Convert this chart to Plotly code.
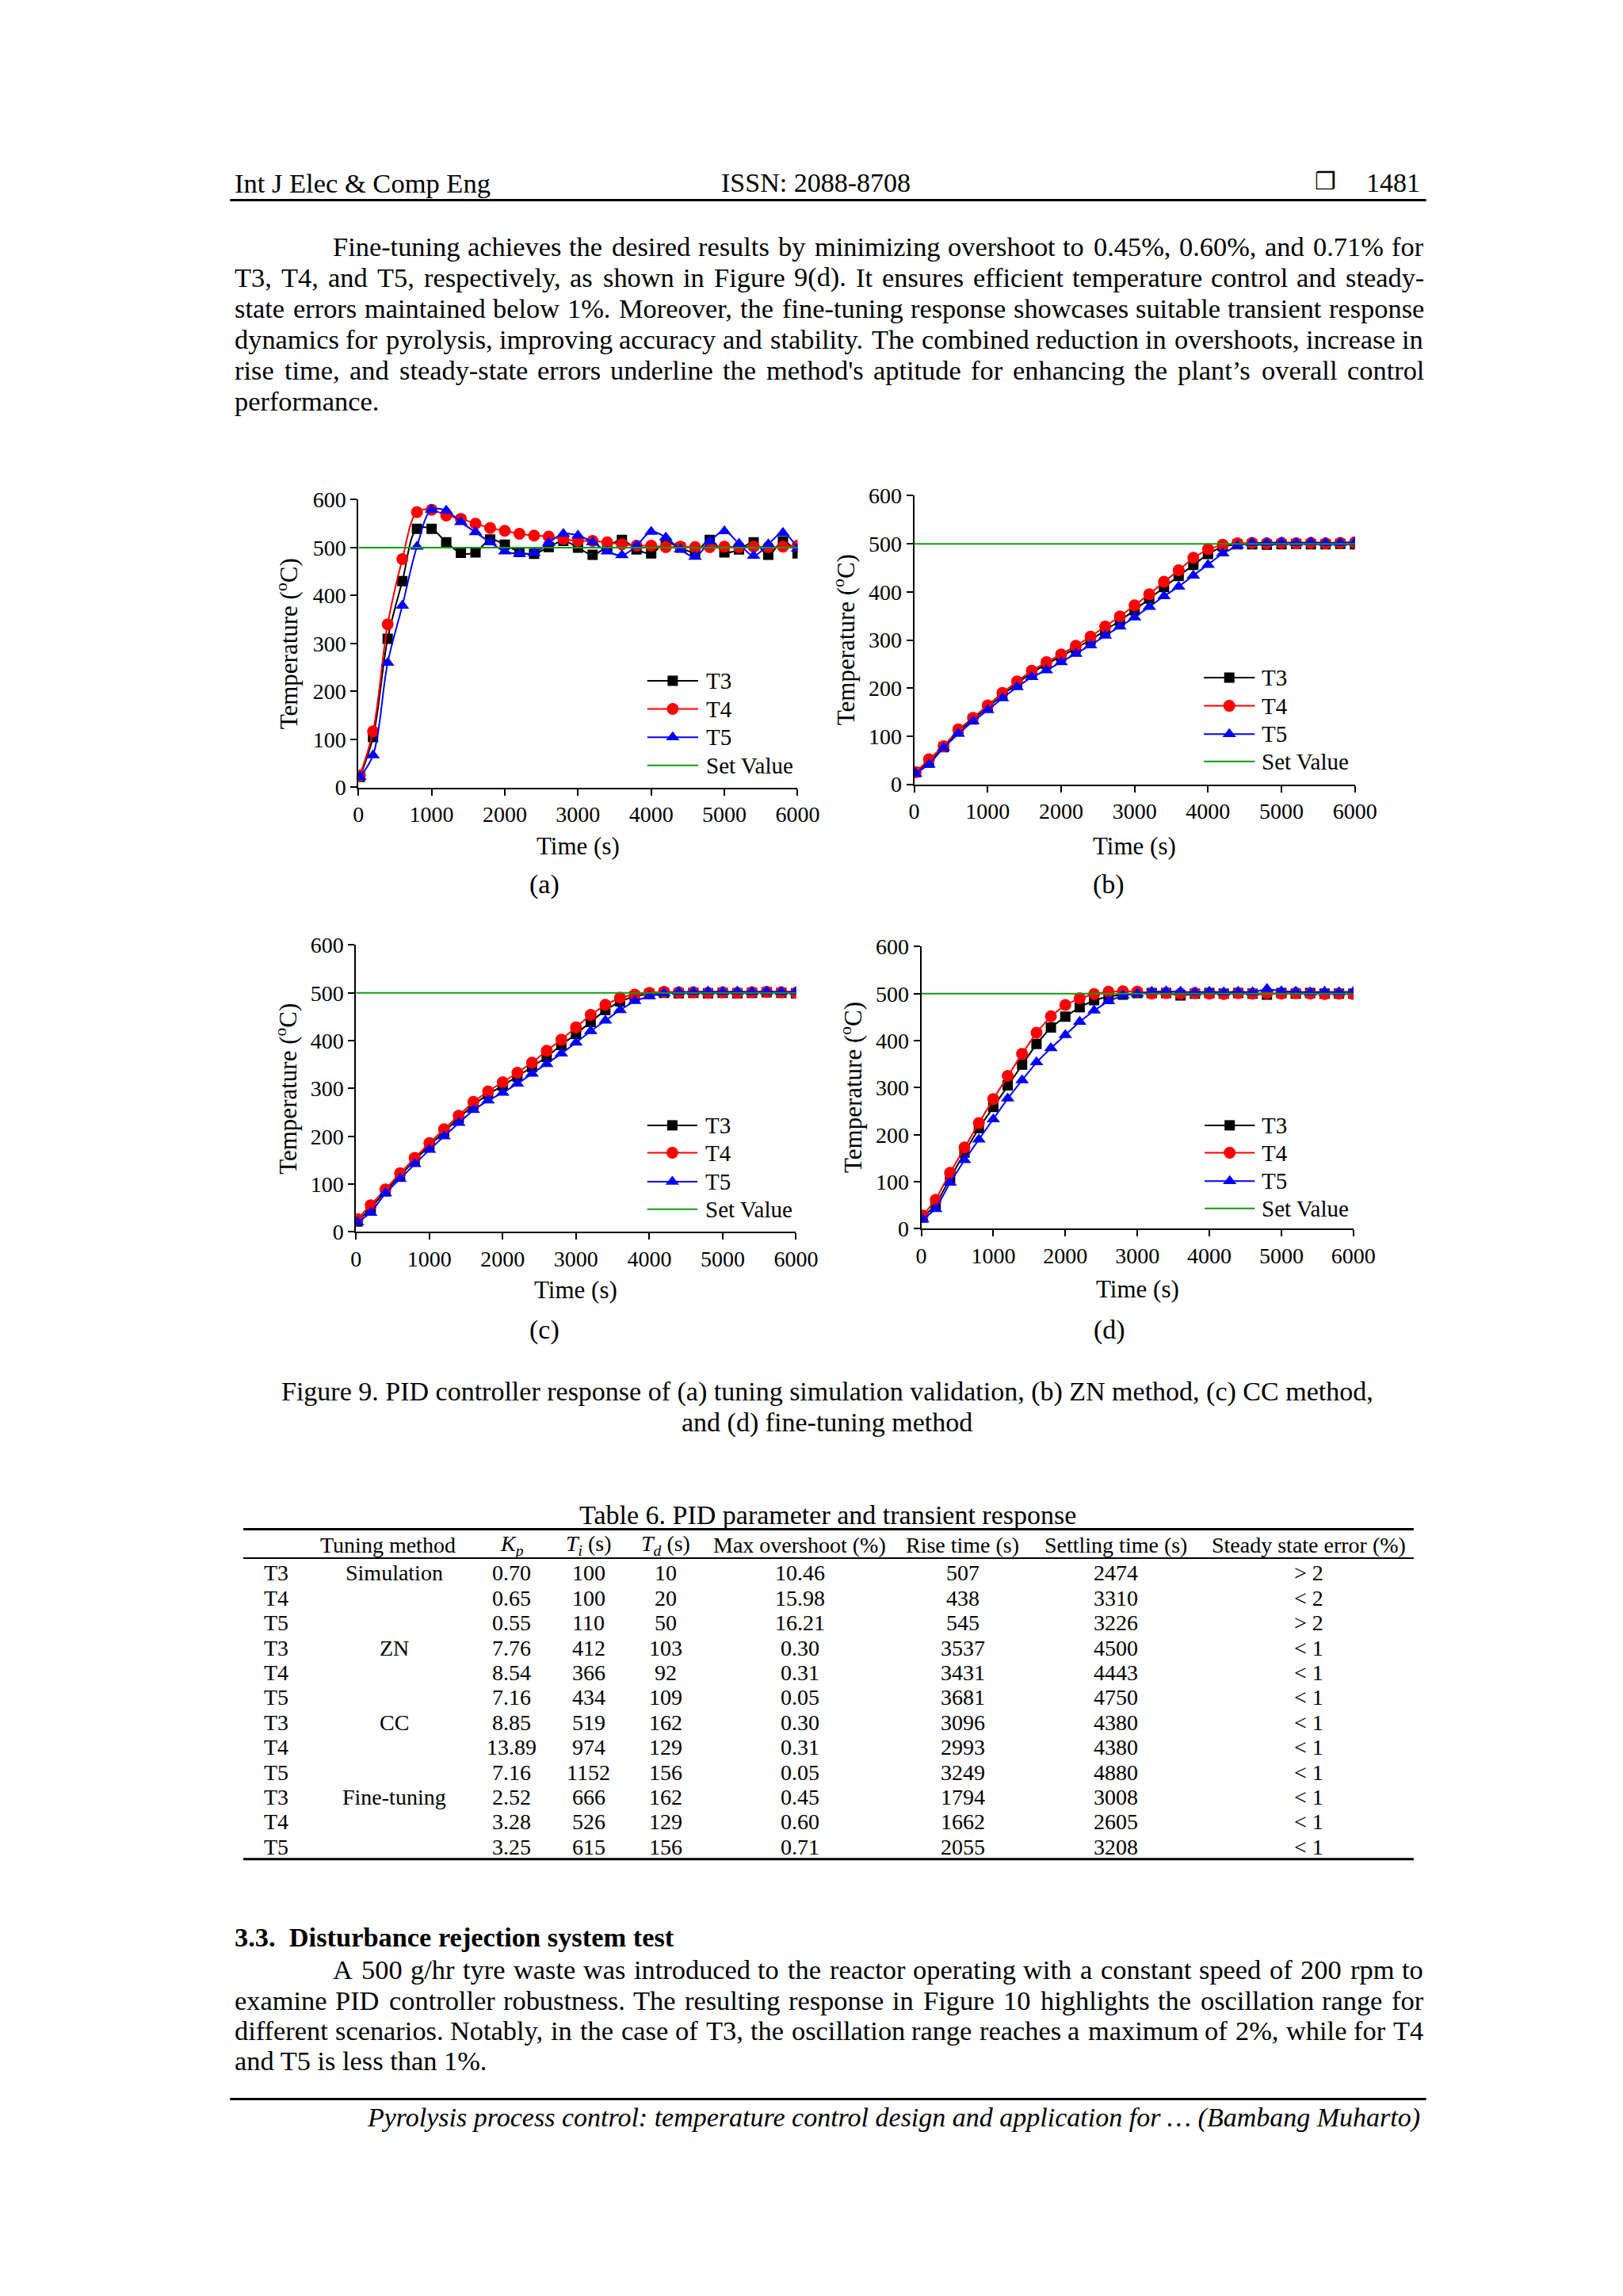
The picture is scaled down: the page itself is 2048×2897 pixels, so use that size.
import plotly.graph_objects as go

W, H = 2048, 2897
FONT = "Liberation Serif"
OFF = 8  # compensate default page body margin

# ---------------- data ----------------
TIME = [20, 200, 400, 600, 800, 1000, 1200, 1400, 1600, 1800, 2000, 2200, 2400, 2600, 2800,
        3000, 3200, 3400, 3600, 3800, 4000, 4200, 4400, 4600, 4800, 5000, 5200, 5400, 5600, 5800, 6000]
SET_VALUE = 500

A_T3 = [22, 105, 310, 430, 539, 539, 511, 489, 490, 517, 506, 491, 487, 501, 514, 500, 485, 502, 516, 496,
        488, 510, 500, 490, 516, 490, 496, 511, 485, 513, 488]
A_T4 = [25, 117, 340, 476, 574, 579, 567, 560, 550, 541, 535, 529, 525, 523, 518, 514, 514, 511, 507, 504,
        504, 501, 502, 501, 501, 502, 501, 502, 501, 502, 504]
A_T5 = [22, 67, 260, 379, 502, 579, 577, 553, 532, 511, 492, 487, 489, 510, 529, 525, 511, 492, 484, 504,
        533, 521, 496, 481, 513, 534, 508, 483, 507, 531, 498]

B_T3 = [25, 45, 77, 110, 135, 160, 186, 210, 232, 250, 266, 283, 300, 320, 340, 362, 386, 410, 433, 456,
        479, 495, 499, 499, 498, 499, 500, 499, 499, 500, 499]
B_T4 = [25, 52, 79, 114, 138, 164, 190, 214, 236, 254, 270, 288, 307, 328, 349, 372, 395, 421, 445, 471,
        489, 498, 501, 502, 501, 502, 501, 502, 501, 502, 503]
B_T5 = [22, 41, 76, 105, 131, 154, 179, 202, 223, 237, 254, 271, 289, 309, 328, 347, 369, 391, 411, 434,
        456, 480, 496, 502, 502, 503, 502, 503, 502, 502, 503]

C_T3 = [22, 50, 85, 118, 150, 181, 210, 238, 266, 288, 306, 325, 345, 366, 391, 414, 439, 464, 482, 493,
        498, 500, 499, 500, 499, 500, 499, 500, 501, 500, 499]
C_T4 = [27, 56, 89, 123, 155, 186, 215, 243, 272, 294, 313, 333, 354, 379, 402, 428, 454, 475, 490, 496,
        500, 502, 501, 501, 500, 501, 500, 501, 502, 501, 500]
C_T5 = [20, 40, 81, 111, 142, 172, 200, 228, 255, 275, 291, 310, 331, 351, 373, 396, 420, 442, 464, 483,
        493, 499, 502, 502, 503, 502, 503, 502, 503, 502, 503]

D_T3 = [24, 51, 107, 162, 214, 259, 305, 349, 393, 428, 451, 471, 486, 494, 498, 501, 501, 501, 496, 500,
        501, 500, 501, 500, 498, 501, 500, 501, 500, 500, 500]
D_T4 = [28, 62, 119, 173, 225, 276, 325, 372, 417, 452, 476, 490, 499, 504, 505, 504, 500, 501, 500, 501,
        500, 499, 501, 500, 501, 500, 501, 500, 499, 500, 499]
D_T5 = [20, 42, 98, 146, 190, 233, 277, 316, 354, 384, 412, 440, 464, 484, 496, 500, 504, 505, 504, 503,
        504, 503, 504, 503, 510, 505, 504, 503, 504, 503, 504]

SERIES_NAMES = ["T3", "T4", "T5"]
LEGEND_LABELS = ["T3", "T4", "T5", "Set Value"]
X_TICKS = [0, 1000, 2000, 3000, 4000, 5000, 6000]
Y_TICKS = [0, 100, 200, 300, 400, 500, 600]
PANEL_LABELS = ["(a)", "(b)", "(c)", "(d)"]

TABLE_SERIES = ["T3", "T4", "T5", "T3", "T4", "T5", "T3", "T4", "T5", "T3", "T4", "T5"]
TABLE_METHOD = ["Simulation", "", "", "ZN", "", "", "CC", "", "", "Fine-tuning", "", ""]
KP = ["0.70", "0.65", "0.55", "7.76", "8.54", "7.16", "8.85", "13.89", "7.16", "2.52", "3.28", "3.25"]
TI = ["100", "100", "110", "412", "366", "434", "519", "974", "1152", "666", "526", "615"]
TD = ["10", "20", "50", "103", "92", "109", "162", "129", "156", "162", "129", "156"]
OVERSHOOT = ["10.46", "15.98", "16.21", "0.30", "0.31", "0.05", "0.30", "0.31", "0.05", "0.45", "0.60", "0.71"]
RISE = ["507", "438", "545", "3537", "3431", "3681", "3096", "2993", "3249", "1794", "1662", "2055"]
SETTLING = ["2474", "3310", "3226", "4500", "4443", "4750", "4380", "4380", "4880", "3008", "2605", "3208"]
SSE = ["&gt; 2", "&lt; 2", "&gt; 2", "&lt; 1", "&lt; 1", "&lt; 1", "&lt; 1", "&lt; 1", "&lt; 1",
       "&lt; 1", "&lt; 1", "&lt; 1"]
TABLE_HEADERS = ["", "Tuning method", "<i>K<sub>p</sub></i>", "<i>T<sub>i</sub></i> (s)",
                 "<i>T<sub>d</sub></i> (s)", "Max overshoot (%)", "Rise time (s)",
                 "Settling time (s)", "Steady state error (%)"]

PARA1 = [
    "Fine-tuning achieves the desired results by minimizing overshoot to 0.45%, 0.60%, and 0.71% for",
    "T3, T4, and T5, respectively, as shown in Figure 9(d). It ensures efficient temperature control and steady-",
    "state errors maintained below 1%. Moreover, the fine-tuning response showcases suitable transient response",
    "dynamics for pyrolysis, improving accuracy and stability. The combined reduction in overshoots, increase in",
    "rise time, and steady-state errors underline the method's aptitude for enhancing the plant\u2019s overall control",
    "performance.",
]
PARA2 = [
    "A 500 g/hr tyre waste was introduced to the reactor operating with a constant speed of 200 rpm to",
    "examine PID controller robustness. The resulting response in Figure 10 highlights the oscillation range for",
    "different scenarios. Notably, in the case of T3, the oscillation range reaches a maximum of 2%, while for T4",
    "and T5 is less than 1%.",
]
CAPTION = [
    "Figure 9. PID controller response of (a) tuning simulation validation, (b) ZN method, (c) CC method,",
    "and (d) fine-tuning method",
]

# ---------------- layout helpers ----------------
XS = 1.005  # slight horizontal stretch about x=280

def gx(x):
    return 280 + (x - 280) * XS

def px(x):
    return (gx(x) - OFF) / W

def py(y):
    return 1 - (y - OFF) / H

# Times New Roman advance widths (per 1000 em) for justified text layout
TW = {' ': 250, '!': 333, '"': 408, '%': 833, '&': 778, "'": 180, '(': 333, ')': 333, ',': 250, '-': 333,
      '.': 250, '/': 278, ':': 278, ';': 278, '?': 444, '\u2019': 333}
for ch in "0123456789":
    TW[ch] = 500
TW.update(dict(zip("ABCDEFGHIJKLMNOPQRSTUVWXYZ",
                   [722, 667, 667, 722, 611, 556, 722, 722, 333, 389, 722, 611, 889, 722, 722, 556, 722,
                    667, 556, 611, 722, 722, 944, 722, 722, 611])))
TW.update(dict(zip("abcdefghijklmnopqrstuvwxyz",
                   [444, 500, 444, 500, 444, 333, 500, 500, 278, 278, 500, 278, 778, 500, 500, 500, 500,
                    333, 389, 278, 500, 500, 722, 500, 500, 444])))

def wwidth(s, size):
    return sum(TW.get(c, 500) for c in s) * size / 1000.0

COLORS = ["#000000", "#FF0000", "#0000FF"]
SYMBOLS = ["square", "circle", "triangle-up"]
SIZES = [13, 15, 15]
GREEN = "#139A13"

PANELS = [
    dict(x0=452, x1=1013, yt=622, yb=989, ytx=362, xty=1064, lab=(690, 1113),
         leg=dict(l0=821, l1=886, tx=894, rows=[853, 889, 925, 961]), shape="spline"),
    dict(x0=1162, x1=1725, yt=617, yb=985, ytx=1073, xty=1064, lab=(1410, 1113),
         leg=dict(l0=1532, l1=1597, tx=1604, rows=[849, 885, 921, 956]), shape="linear"),
    dict(x0=449, x1=1011, yt=1190, yb=1556, ytx=360, xty=1630, lab=(690, 1681),
         leg=dict(l0=821, l1=885, tx=893, rows=[1420, 1455, 1492, 1527]), shape="linear"),
    dict(x0=1171, x1=1723, yt=1192, yb=1552, ytx=1082, xty=1629, lab=(1411, 1681),
         leg=dict(l0=1533, l1=1597, tx=1604, rows=[1420, 1455, 1491, 1526]), shape="linear"),
]
PANEL_DATA = [(A_T3, A_T4, A_T5), (B_T3, B_T4, B_T5), (C_T3, C_T4, C_T5), (D_T3, D_T4, D_T5)]

fig = go.Figure()
annotations = []
shapes = []

def text(x, y, s, size=34, xanchor="left", angle=0, yanchor="middle"):
    annotations.append(dict(x=px(x), y=py(y), xref="paper", yref="paper", text=s, showarrow=False,
                            xanchor=xanchor, yanchor=yanchor, textangle=angle,
                            font=dict(family=FONT, size=size, color="black")))

def justified(x0, x1, y, line, size):
    # positions computed in output pixels so that the right edge lands on x1
    words = line.split(" ")
    widths = [wwidth(w, size) for w in words]
    a, b = gx(x0), gx(x1)
    gap = (b - a - sum(widths)) / (len(words) - 1)
    if gap < 0.5 * TW[' '] * size / 1000.0:
        text(x0, y, line, size=size)
        return
    x = a
    for w, wd in zip(words, widths):
        annotations.append(dict(x=(x - OFF) / W, y=py(y), xref="paper", yref="paper", text=w,
                                showarrow=False, xanchor="left", yanchor="middle",
                                font=dict(family=FONT, size=size, color="black")))
        x += wd + gap

def hline(x0, x1, y, width=2):
    shapes.append(dict(type="line", xref="paper", yref="paper", x0=px(x0), x1=px(x1), y0=py(y), y1=py(y),
                       line=dict(color="black", width=width)))

for i, (p, series) in enumerate(zip(PANELS, PANEL_DATA)):
    n = i + 1
    xa = "x" if n == 1 else f"x{n}"
    ya = "y" if n == 1 else f"y{n}"
    for k, vals in enumerate(series):
        fig.add_trace(go.Scatter(x=TIME, y=vals, xaxis=xa, yaxis=ya, mode="lines+markers",
                                 name=SERIES_NAMES[k], showlegend=False,
                                 line=dict(color=COLORS[k], width=2, shape=p["shape"]),
                                 marker=dict(symbol=SYMBOLS[k], size=SIZES[k], color=COLORS[k])))
    fig.add_trace(go.Scatter(x=[0, 6000], y=[SET_VALUE, SET_VALUE], xaxis=xa, yaxis=ya, mode="lines",
                             name="Set Value", showlegend=False, line=dict(color=GREEN, width=2)))
    axcommon = dict(showline=True, linecolor="black", linewidth=2, ticks="outside", ticklen=8,
                    tickwidth=2, tickcolor="black", showgrid=False, zeroline=False,
                    tickfont=dict(family=FONT, size=28, color="black"), fixedrange=True)
    fig.update_layout({
        ("xaxis" if n == 1 else f"xaxis{n}"): dict(domain=[px(p["x0"]), px(p["x1"])], range=[0, 6000],
                                                   tickvals=X_TICKS, anchor=ya, **axcommon),
        ("yaxis" if n == 1 else f"yaxis{n}"): dict(domain=[py(p["yb"]), py(p["yt"])], range=[0, 600],
                                                   tickvals=Y_TICKS, anchor=xa, **axcommon),
    })
    text(p["ytx"], (p["yt"] + p["yb"]) / 2, "Temperature (<sup>o</sup>C)", size=31, xanchor="center", angle=-90)
    text((p["x0"] + p["x1"]) / 2, p["xty"], "Time (s)", size=31, xanchor="center")
    text(p["lab"][0], p["lab"][1], PANEL_LABELS[i], size=34, xanchor="center")
    lg = p["leg"]
    for r, lab in enumerate(LEGEND_LABELS):
        yy = lg["rows"][r]
        col = COLORS[r] if r < 3 else GREEN
        shapes.append(dict(type="line", xref="paper", yref="paper", x0=px(lg["l0"]), x1=px(lg["l1"]),
                           y0=py(yy), y1=py(yy), line=dict(color=col, width=2)))
        text(lg["tx"], yy, lab, size=29)
        if r < 3:
            fig.add_trace(go.Scatter(x=[gx((lg["l0"] + lg["l1"]) / 2) - OFF], y=[yy - OFF],
                                     xaxis="x5", yaxis="y5", mode="markers", showlegend=False,
                                     hoverinfo="skip",
                                     marker=dict(symbol=SYMBOLS[r], size=SIZES[r], color=COLORS[r])))

fig.update_layout(
    xaxis5=dict(domain=[0, 1], range=[0, W], visible=False, anchor="y5", fixedrange=True),
    yaxis5=dict(domain=[0, 1], range=[H, 0], visible=False, anchor="x5", fixedrange=True),
)

# ---------------- page text ----------------
LEFT, RIGHT, INDENT = 292, 1810, 417
BODY = 34.4
text(LEFT, 218, "Int J Elec &amp; Comp Eng", size=34.5)
text(1036, 218, "ISSN: 2088-8708", size=34, xanchor="center")
text(1687, 216, "\u2752", size=30, xanchor="center")
text(RIGHT, 218, "1481", size=34, xanchor="right")
hline(288, 1816, 240, width=3)

for j, line in enumerate(PARA1):
    x0 = INDENT if j == 0 else LEFT
    y = 299 + j * 39.5
    if j < len(PARA1) - 1:
        justified(x0, RIGHT, y, line, BODY)
    else:
        text(x0, y, line, size=BODY)

for j, line in enumerate(CAPTION):
    text(1051, 1760 + j * 39, line, size=34, xanchor="center")

# table
text(1052, 1917, "Table 6. PID parameter and transient response", size=34, xanchor="center")
hline(305, 1800, 1935, width=3)
hline(305, 1800, 1972, width=2)
hline(305, 1800, 2356, width=3)
COLX = [347, 490, 648, 746, 845, 1016, 1224, 1420, 1666]
for c, h in enumerate(TABLE_HEADERS):
    if h:
        text(COLX[c], 1955, h, size=28, xanchor="center")
COLUMNS = [TABLE_SERIES, TABLE_METHOD, KP, TI, TD, OVERSHOOT, RISE, SETTLING, SSE]
COLX_BODY = [347, 498, 648, 746, 845, 1016, 1224, 1420, 1666]
for r in range(len(TABLE_SERIES)):
    yy = 1991 + r * 31.75
    for c, col in enumerate(COLUMNS):
        if col[r]:
            text(COLX_BODY[c], yy, col[r], size=28, xanchor="center")

text(LEFT, 2455, "<b>3.3.\u00a0\u00a0Disturbance rejection system test</b>", size=BODY)
for j, line in enumerate(PARA2):
    x0 = INDENT if j == 0 else LEFT
    y = 2497 + j * 38.7
    if j < len(PARA2) - 1:
        justified(x0, RIGHT, y, line, BODY)
    else:
        text(x0, y, line, size=BODY)

hline(288, 1816, 2662, width=3)
text(RIGHT, 2686, "<i>Pyrolysis process control: temperature control design and application for \u2026 (Bambang Muharto)</i>",
     size=34, xanchor="right")

fig.update_layout(width=W, height=H, margin=dict(l=0, r=0, t=0, b=0, pad=0),
                  paper_bgcolor="white", plot_bgcolor="rgba(0,0,0,0)",
                  font=dict(family=FONT, size=28, color="black"),
                  showlegend=False, annotations=annotations, shapes=shapes)

fig.write_html("out.html")
